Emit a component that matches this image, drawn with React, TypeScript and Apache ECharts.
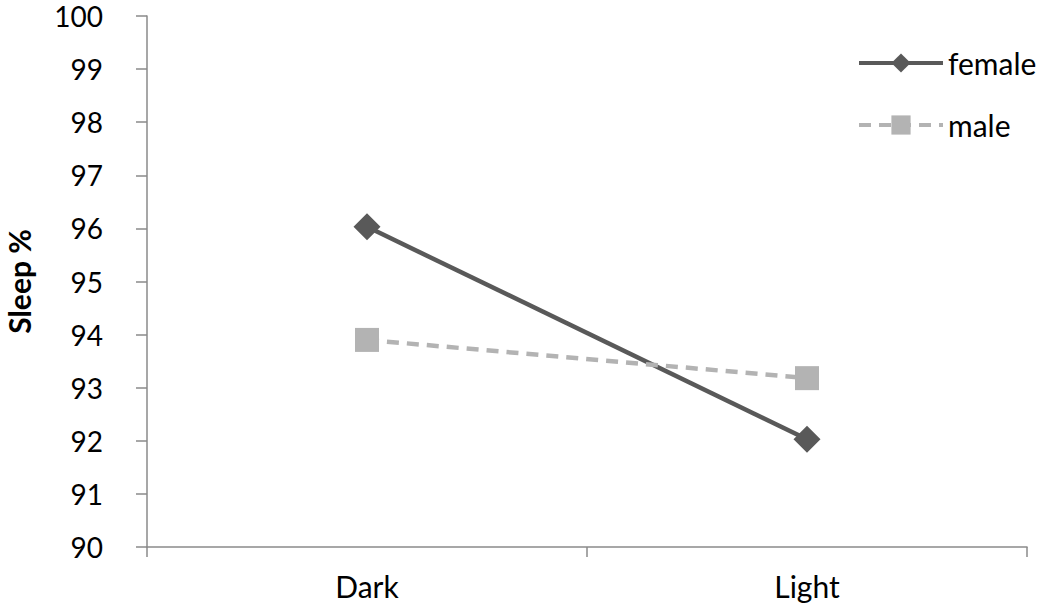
import React, { useEffect, useRef } from "react";
import * as echarts from "echarts";

const categories = ["Dark", "Light"];
const femaleValues = [96.03, 92.03];
const maleValues = [93.9, 93.18];
const yTicks = { min: 90, max: 100, interval: 1 };

export default function App() {
  const ref = useRef<HTMLDivElement>(null);
  useEffect(() => {
    const chart = echarts.init(ref.current!, null, { renderer: "svg" });
    const font = "Lato";
    chart.setOption({
      animation: false,
      backgroundColor: "#ffffff",
      grid: { left: 147, right: 23, top: 16, bottom: 68, outerBoundsMode: "none", containLabel: false },
      legend: {
        orient: "vertical",
        left: 852,
        top: 43,
        itemWidth: 84,
        itemHeight: 24,
        itemGap: 32,
        lineStyle: { width: 4 },
        textStyle: { fontFamily: font, fontSize: 30, color: "#000" },
        data: ["female", "male"],
      },
      xAxis: {
        type: "category",
        data: categories,
        boundaryGap: true,
        axisLine: { lineStyle: { color: "#8a8a8a", width: 1.5 } },
        axisTick: { show: true, length: 10, alignWithLabel: false, lineStyle: { color: "#8a8a8a", width: 1.5 } },
        axisLabel: { fontFamily: font, fontSize: 30, color: "#000", margin: 24 },
      },
      yAxis: {
        type: "value",
        min: yTicks.min,
        max: yTicks.max,
        interval: yTicks.interval,
        name: "Sleep %",
        nameLocation: "middle",
        nameGap: 113,
        nameTextStyle: { fontFamily: font, fontSize: 30, fontWeight: "bold", color: "#000" },
        splitLine: { show: false },
        axisLine: { show: true, lineStyle: { color: "#8a8a8a", width: 1.5 } },
        axisTick: { show: true, length: 11, lineStyle: { color: "#8a8a8a", width: 1.5 } },
        axisLabel: { fontFamily: font, fontSize: 28, lineHeight: 24, color: "#000", margin: 44 },
      },
      series: [
        {
          name: "female",
          type: "line",
          data: femaleValues,
          symbol: "diamond",
          symbolSize: [27, 27],
          itemStyle: { color: "#595959" },
          lineStyle: { color: "#595959", width: 4.5 },
        },
        {
          name: "male",
          type: "line",
          data: maleValues,
          symbol: "rect",
          symbolSize: [24, 24],
          itemStyle: { color: "#b3b3b3" },
          lineStyle: { color: "#b3b3b3", width: 4.5, type: [12, 8] },
        },
      ],
    });
    return () => chart.dispose();
  }, []);
  return (
    <div
      ref={ref}
      style={{ position: "absolute", left: 0, top: 0, width: 1050, height: 615 }}
    />
  );
}
